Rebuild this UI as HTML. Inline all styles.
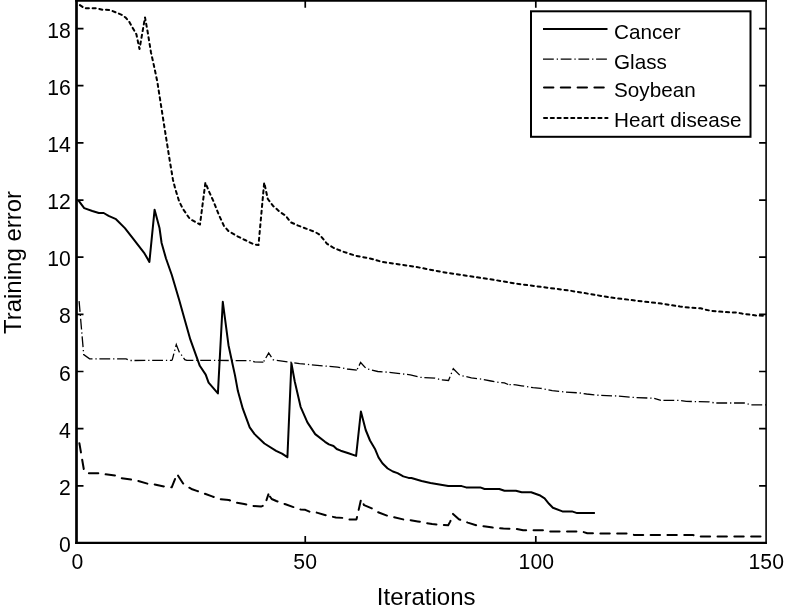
<!DOCTYPE html>
<html><head><meta charset="utf-8"><style>
html,body{margin:0;padding:0;background:#fff;}
svg{display:block;}
text{font-family:"Liberation Sans",Arial,sans-serif;fill:#000;}
</style></head><body>
<svg width="785" height="613" viewBox="0 0 785 613">
<rect width="785" height="613" fill="#fff"/>
<polyline points="79.1,4.6 84.5,8.2 96.5,8.2 102.5,9.8 109.2,9.9 112.7,11.1 121.9,14.9 125.7,17.6 129.5,22.2 133.3,29 136.4,34.3 139.5,49.1 145,17.4 147.5,31 151,52.5 154.5,68.2 157.3,81.6 164.7,128.9 169.9,161.5 173,179.9 175.3,189 179.1,201.3 182.9,208.9 189.8,218.9 200,224.5 205.4,182.6 208.9,191.3 213.5,201.3 218.9,215 224,226 228.4,231 237.3,236.2 245,240 253.9,244.4 258.5,245 264.2,182.6 267.8,199 273.1,205.9 280,212 285.7,215.7 290.7,222.3 298.2,225.6 315.5,232.2 319.7,234.7 327.1,243.8 333.8,248 342.9,251.6 356.1,255.9 371,258.7 382.6,262 400,264.5 415.5,266.8 441,271.8 466.4,275.7 491.9,279.5 517.4,283.8 542.9,287.1 568.3,290.4 590,294 610.5,297.5 636,300.6 661.4,303.6 680,306.5 689,307.6 700.6,308.3 704.5,309.5 711,310.8 724,312 737,312.6 742,313.6 756,315.5 766,315.8" fill="none" stroke="#000" stroke-width="2.0" stroke-dasharray="3.1 3.7" stroke-linecap="round" stroke-dashoffset="-1" stroke-linejoin="round"/>
<polyline points="78.4,200.4 84.2,208.1 92.3,211 98.8,213 103.7,213 108.6,215.9 116,219.2 124.9,228.1 133.1,238.7 144.5,253.4 149.4,261.9 154.6,209.7 159.5,228 161.6,243 166,258.5 171.8,275 179.2,300 184.8,320 190.3,339.4 199.8,365.8 205.7,374.6 208.6,382.7 217.9,393.4 222.8,301.8 228.5,345.2 232.9,365.8 235,375.4 237.9,391.1 242.8,408.7 249.7,427.3 254.6,434.1 264.4,443.5 276.1,450.8 282,453.7 287.4,457.2 291.4,363.3 294.7,381.3 300.6,406.8 307.4,422.4 315.2,434.1 325,441.8 328.9,444.4 333.5,446 336.7,449 340.7,450.7 348.5,453.3 356.1,455.9 360.9,411.5 365.7,430 370,440.5 375.3,449.6 378.5,457.4 382.4,463.3 387.7,468.5 392.9,471.5 397.5,473.1 403.3,476.4 408.6,477.9 411.4,478 421.6,481 430.5,482.9 439.4,484.5 448.3,486.1 461.7,486.1 466.1,487.4 480.2,487.4 484.6,489 499.3,489 504.5,490.8 515.9,490.8 521.7,492.3 531.2,492.3 539.5,495.2 544.6,498.3 549,503.8 552.9,507.8 562.4,511.4 572,511.4 577.1,513.1 594.9,513.1" fill="none" stroke="#000" stroke-width="2.0" stroke-linejoin="round"/>
<polyline points="79.1,301.1 83.7,354.6 89.6,358.9 126.1,358.9 130,360.5 172.1,360.3" fill="none" stroke="#000" stroke-width="1.3" stroke-dasharray="10.8 2.9 1.3 2.7" stroke-dashoffset="0.00" shape-rendering="auto"/>
<polyline points="172.1,360.3 176.3,344.6 179.1,351.7 184.8,359.6 186.8,360.3 251.7,360.6 254.3,361.8 263.4,362.1" fill="none" stroke="#000" stroke-width="1.3" stroke-dasharray="10.8 2.9 1.3 2.7" stroke-dashoffset="145.51" shape-rendering="auto"/>
<polyline points="263.4,362.1 268.7,352.9 273.2,359.8 289.8,362.1 299.6,363.7 317.2,365.3 337.6,367.1 347.2,369 356.8,370.2" fill="none" stroke="#000" stroke-width="1.3" stroke-dasharray="10.8 2.9 1.3 2.7" stroke-dashoffset="260.73" shape-rendering="auto"/>
<polyline points="356.8,370.2 360.6,362.5 366.3,368.7 377.8,371.5 387.3,372.1 397.8,373.4 410.3,374.8 419.8,377.3 435.1,378.2 440.8,379.7 448.5,380.5 453.3,368.7 460,375.4 471.4,377.8 481.5,379.1 491,381 498.7,382.5 504.4,382.9 508.2,384.5" fill="none" stroke="#000" stroke-width="1.3" stroke-dasharray="10.8 2.9 1.3 2.7" stroke-dashoffset="366.58" shape-rendering="auto"/>
<polyline points="508.2,384.5 515.9,384.8 521.6,385.8 533.1,387.7 540.7,388.3 552.2,390.6 565.5,392.1 578.9,392.9 586.6,394 600,395.4 615.2,395.9 631.3,397.3 653.7,398.3 660.9,400.4" fill="none" stroke="#000" stroke-width="1.3" stroke-dasharray="10.8 2.9 1.3 2.7" stroke-dashoffset="543.41" shape-rendering="auto"/>
<polyline points="660.9,400.4 680.2,400.4 686.3,401.4 708.8,401.8 714.9,403 745.5,403 750.5,404.9 766,404.9" fill="none" stroke="#000" stroke-width="1.3" stroke-dasharray="10.8 2.9 1.3 2.7" stroke-dashoffset="705.46" shape-rendering="auto"/>
<polyline points="79.2,442.2 84.1,471 88.3,473.3 99,473.3 105.2,474.3 115.1,475.4 121.2,478.2 131.9,479.7 138,480.9 148,483.8 154.1,484.3 164.8,486.6 171.7,487.3 177,474 183.1,483.5 187.6,486.8 192.2,489.3 196.8,490.9 204.5,493.6 212.1,496.4 219,499 228.9,500 235,502.5 244.2,504 253.4,505.9 261,506.6 264.8,505.1 268.4,494.4" fill="none" stroke="#000" stroke-width="2.0" stroke-dasharray="9.4 7.4" stroke-linecap="round" stroke-dashoffset="-1" stroke-linejoin="round"/>
<polyline points="268.4,494.4 271.7,499 276.3,501 285.5,504.3 294.6,507.5 300.7,509.5 305.3,509.8 310.6,512.1 316.8,512.6 326.7,515.6 335.9,517.5 342.7,517.9 348.9,519.4 356.5,519.4 357.3,515.9 361.1,499.1 364.1,505.2 372.5,508.7 377.9,512.1 387.8,515.9 393.9,517.1 403.1,519.4 408.9,520 417.8,521.4 426.8,523.2 432.1,524.1 448.2,525.3 450.3,521.4 453,513.9 458.9,519.3 467.8,522.6 476.7,525.5 485.6,526.4 492.7,527.6 503.4,528.5 515.9,528.9 523.1,530.3 543.8,530.3 549.1,531.5 577.4,531.5 582.7,531.8 587.3,533.3 627.8,533.6 633.9,534.9 692.8,534.9 696.8,536.5 767,536.5" fill="none" stroke="#000" stroke-width="2.0" stroke-dasharray="9.4 7.4" stroke-linecap="round" stroke-dashoffset="232.58" stroke-linejoin="round"/>
<path d="M76.5,-0.15000000000000002 V544.0" stroke="#000" stroke-width="2.7"/>
<path d="M75.2,542.9 H766.9" stroke="#000" stroke-width="2.2"/>
<path d="M75.2,0.85 H766.9" stroke="#000" stroke-width="1.8"/>
<path d="M766.1,-0.15000000000000002 V544.0" stroke="#000" stroke-width="1.6"/>
<path d="M76.5,485.84 h7 M766.1,485.84 h-7" stroke="#000" stroke-width="1.7"/>
<path d="M76.5,428.68 h7 M766.1,428.68 h-7" stroke="#000" stroke-width="1.7"/>
<path d="M76.5,371.52 h7 M766.1,371.52 h-7" stroke="#000" stroke-width="1.7"/>
<path d="M76.5,314.36 h7 M766.1,314.36 h-7" stroke="#000" stroke-width="1.7"/>
<path d="M76.5,257.20 h7 M766.1,257.20 h-7" stroke="#000" stroke-width="1.7"/>
<path d="M76.5,200.04 h7 M766.1,200.04 h-7" stroke="#000" stroke-width="1.7"/>
<path d="M76.5,142.88 h7 M766.1,142.88 h-7" stroke="#000" stroke-width="1.7"/>
<path d="M76.5,85.72 h7 M766.1,85.72 h-7" stroke="#000" stroke-width="1.7"/>
<path d="M76.5,28.56 h7 M766.1,28.56 h-7" stroke="#000" stroke-width="1.7"/>
<path d="M305.25,542.9 v-7 M305.25,0.85 v7" stroke="#000" stroke-width="1.7"/>
<path d="M535.80,542.9 v-7 M535.80,0.85 v7" stroke="#000" stroke-width="1.7"/>
<g font-size="21.2">
<text transform="translate(70.9,552.00) scale(1,1.05)" text-anchor="end">0</text>
<text transform="translate(70.9,494.84) scale(1,1.05)" text-anchor="end">2</text>
<text transform="translate(70.9,437.68) scale(1,1.05)" text-anchor="end">4</text>
<text transform="translate(70.9,380.52) scale(1,1.05)" text-anchor="end">6</text>
<text transform="translate(70.9,323.36) scale(1,1.05)" text-anchor="end">8</text>
<text transform="translate(70.9,266.20) scale(1,1.05)" text-anchor="end">10</text>
<text transform="translate(70.9,209.04) scale(1,1.05)" text-anchor="end">12</text>
<text transform="translate(70.9,151.88) scale(1,1.05)" text-anchor="end">14</text>
<text transform="translate(70.9,94.72) scale(1,1.05)" text-anchor="end">16</text>
<text transform="translate(70.9,37.56) scale(1,1.05)" text-anchor="end">18</text>
<text transform="translate(77.30,569.0) scale(1,1.05)" text-anchor="middle">0</text>
<text transform="translate(305.15,569.0) scale(1,1.05)" text-anchor="middle">50</text>
<text transform="translate(536.30,569.0) scale(1,1.05)" text-anchor="middle">100</text>
<text transform="translate(766.25,569.0) scale(1,1.05)" text-anchor="middle">150</text>
</g>
<g font-size="20.7">
<rect x="531.0" y="11.3" width="219.50" height="125.50" fill="#fff" stroke="#000" stroke-width="2"/>
<line x1="543.0" y1="29.0" x2="607.5" y2="29.0" stroke="#000" stroke-width="2.0"/>
<text transform="translate(614.0,38.5) scale(1,1.02)">Cancer</text>
<line x1="543.0" y1="59.1" x2="607.5" y2="59.1" stroke="#000" stroke-width="1.3" stroke-dasharray="10.8 2.9 1.3 2.7"/>
<text transform="translate(614.0,68.6) scale(1,1.02)">Glass</text>
<line x1="543.0" y1="87.6" x2="607.5" y2="87.6" stroke="#000" stroke-width="2.0" stroke-dasharray="9.4 7.4" stroke-linecap="round" stroke-dashoffset="-1"/>
<text transform="translate(614.0,97.1) scale(1,1.02)">Soybean</text>
<line x1="543.0" y1="117.9" x2="607.5" y2="117.9" stroke="#000" stroke-width="2.0" stroke-dasharray="3.1 3.7" stroke-linecap="round" stroke-dashoffset="-1"/>
<text transform="translate(614.0,127.4) scale(1,1.02)">Heart disease</text>
</g>
<text transform="translate(426.2,604.5) scale(1,1.03)" font-size="24" text-anchor="middle">Iterations</text>
<text transform="translate(20.9,262.5) rotate(-90) scale(1,1.03)" font-size="24" text-anchor="middle">Training error</text>
</svg>
</body></html>
